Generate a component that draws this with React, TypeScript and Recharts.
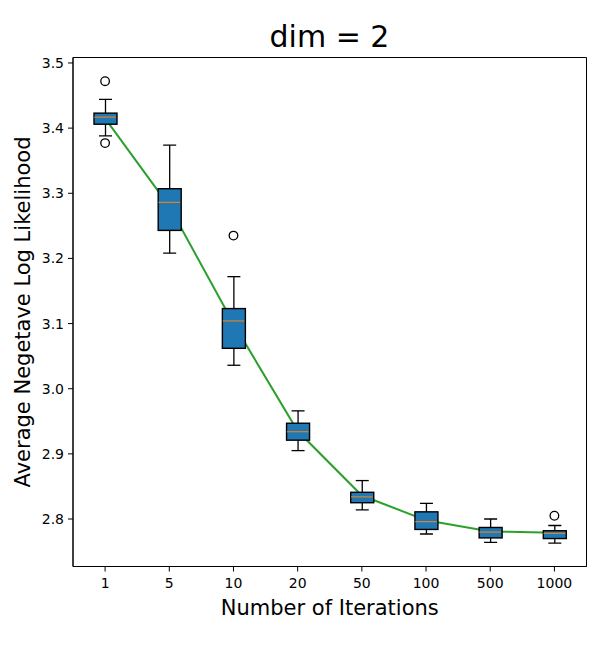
import {
  ComposedChart,
  Bar,
  Line,
  XAxis,
  YAxis,
  ReferenceArea,
} from "recharts";

// iterations on the x axis
const ITERATIONS = ["1", "5", "10", "20", "50", "100", "500", "1000"];

// box plot stats per iteration count
const WHISKER_LOW = [3.388, 3.208, 3.036, 2.905, 2.814, 2.777, 2.764, 2.763];
const Q1 = [3.406, 3.243, 3.062, 2.921, 2.825, 2.784, 2.771, 2.77];
const MEDIAN = [3.417, 3.286, 3.104, 2.934, 2.834, 2.796, 2.78, 2.778];
const Q3 = [3.423, 3.307, 3.123, 2.947, 2.841, 2.811, 2.787, 2.782];
const WHISKER_HIGH = [3.444, 3.374, 3.172, 2.966, 2.859, 2.824, 2.8, 2.79];
const MEAN = [3.415, 3.28, 3.1, 2.935, 2.836, 2.798, 2.781, 2.779];
const OUTLIER_HIGH = [3.472, null, 3.235, null, null, null, null, 2.805];
const OUTLIER_LOW = [3.377, null, null, null, null, null, null, null];

const Y_TICKS = [2.8, 2.9, 3.0, 3.1, 3.2, 3.3, 3.4, 3.5];
const Y_DOMAIN: [number, number] = [2.7271, 3.5084];

const FONT = "DejaVu Sans";
const BOX_WIDTH = 23;
const W = 598;
const H = 646;
const MARGIN = { top: 57.5, right: 11.5, bottom: 0, left: 0 };

const data = ITERATIONS.map((it, i) => ({
  it,
  whisker: [WHISKER_LOW[i], WHISKER_HIGH[i]],
  box: [Q1[i], Q3[i]],
  median: MEDIAN[i],
  mean: MEAN[i],
  outHigh: OUTLIER_HIGH[i],
  outLow: OUTLIER_LOW[i],
}));

function WhiskerShape(props: any) {
  const { x, y, width, height } = props;
  const top = Math.min(y, y + height);
  const bottom = Math.max(y, y + height);
  const cx = x + width / 2;
  const cap = 6.5;
  return (
    <g>
      <line x1={cx} x2={cx} y1={top} y2={bottom} stroke="#000" strokeWidth={1.3} />
      <line x1={cx - cap} x2={cx + cap} y1={top} y2={top} stroke="#000" strokeWidth={1.3} />
      <line x1={cx - cap} x2={cx + cap} y1={bottom} y2={bottom} stroke="#000" strokeWidth={1.3} />
    </g>
  );
}

function BoxShape(props: any) {
  const { x, y, width, height } = props;
  const top = Math.min(y, y + height);
  return (
    <rect
      x={x}
      y={top}
      width={width}
      height={Math.abs(height)}
      fill="#1f77b4"
      stroke="#000"
      strokeWidth={1.4}
    />
  );
}

function MedianDot(props: any) {
  const { cx, cy, index } = props;
  if (cx == null || cy == null) return <g key={`m${index}`} />;
  return (
    <line
      key={`m${index}`}
      x1={cx - BOX_WIDTH / 2 + 0.7}
      x2={cx + BOX_WIDTH / 2 - 0.7}
      y1={cy}
      y2={cy}
      stroke="#d9822b"
      strokeWidth={1.2}
    />
  );
}

function OutlierDot(props: any) {
  const { cx, cy, index, value, dataKey } = props;
  if (cx == null || cy == null || value == null) return <g key={`${dataKey}${index}`} />;
  return (
    <circle
      key={`${dataKey}${index}`}
      cx={cx}
      cy={cy}
      r={4.3}
      fill="#fff"
      stroke="#000"
      strokeWidth={1.3}
    />
  );
}

const tickStyle = { fontSize: 14, fill: "#000", fontFamily: FONT };

export default function App() {
  return (
    <div style={{ position: "absolute", left: 0, top: 0, width: W, height: H, background: "#fff" }}>
      <svg
        width={W}
        height={60}
        style={{ position: "absolute", left: 0, top: 0, pointerEvents: "none" }}
      >
        <text x={329.5} y={47.3} textAnchor="middle" fontSize={30} fontFamily={FONT} fill="#000">
          dim = 2
        </text>
      </svg>

      {/* bottom layer: axes, frame and the mean line */}
      <div style={{ position: "absolute", left: 0, top: 0 }}>
        <ComposedChart
          width={W}
          height={H}
          data={data}
          margin={MARGIN}
          barSize={BOX_WIDTH}
          barGap={-BOX_WIDTH}
        >
          <XAxis
            dataKey="it"
            height={79.5}
            tick={tickStyle}
            tickSize={5}
            tickMargin={7}
            axisLine={{ stroke: "#000" }}
            tickLine={{ stroke: "#000" }}
            label={{
              content: (p: any) => {
                const vb = p.viewBox;
                return (
                  <text
                    x={vb.x + vb.width / 2}
                    y={vb.y + 48.5}
                    textAnchor="middle"
                    fontSize={21}
                    fontFamily={FONT}
                    fill="#000"
                  >
                    Number of Iterations
                  </text>
                );
              },
            }}
          />
          <YAxis
            type="number"
            domain={Y_DOMAIN}
            ticks={Y_TICKS}
            allowDataOverflow
            width={73}
            tickFormatter={(v: number) => v.toFixed(1)}
            tick={tickStyle}
            tickSize={5}
            tickMargin={4}
            axisLine={{ stroke: "#000" }}
            tickLine={{ stroke: "#000" }}
            label={{
              content: (p: any) => {
                const vb = p.viewBox;
                const lx = vb.x + 29.5;
                const ly = vb.y + vb.height / 2;
                return (
                  <text
                    x={lx}
                    y={ly}
                    transform={`rotate(-90 ${lx} ${ly})`}
                    textAnchor="middle"
                    fontSize={21}
                    fontFamily={FONT}
                    fill="#000"
                  >
                    Average Negetave Log Likelihood
                  </text>
                );
              },
            }}
          />
          <ReferenceArea
            y1={Y_DOMAIN[0]}
            y2={Y_DOMAIN[1]}
            fill="none"
            fillOpacity={0}
            stroke="#000"
            strokeWidth={1}
            ifOverflow="visible"
          />
          <Bar dataKey="box" fill="none" shape={() => <g />} isAnimationActive={false} />
          <Line
            dataKey="mean"
            type="linear"
            stroke="#2ca02c"
            strokeWidth={2}
            dot={false}
            activeDot={false}
            isAnimationActive={false}
          />
        </ComposedChart>
      </div>

      {/* top layer: boxes, whiskers, medians and outliers */}
      <div style={{ position: "absolute", left: 0, top: 0 }}>
        <ComposedChart
          width={W}
          height={H}
          data={data}
          margin={MARGIN}
          barSize={BOX_WIDTH}
          barGap={-BOX_WIDTH}
        >
          <XAxis dataKey="it" height={79.5} tick={false} axisLine={false} tickLine={false} />
          <YAxis
            type="number"
            domain={Y_DOMAIN}
            ticks={Y_TICKS}
            allowDataOverflow
            width={73}
            tick={false}
            axisLine={false}
            tickLine={false}
          />
          <Bar dataKey="whisker" shape={WhiskerShape} isAnimationActive={false} />
          <Bar dataKey="box" shape={BoxShape} isAnimationActive={false} />
          <Line
            dataKey="median"
            stroke="none"
            dot={MedianDot}
            activeDot={false}
            isAnimationActive={false}
          />
          <Line
            dataKey="outHigh"
            stroke="none"
            dot={OutlierDot}
            activeDot={false}
            isAnimationActive={false}
          />
          <Line
            dataKey="outLow"
            stroke="none"
            dot={OutlierDot}
            activeDot={false}
            isAnimationActive={false}
          />
        </ComposedChart>
      </div>
    </div>
  );
}
